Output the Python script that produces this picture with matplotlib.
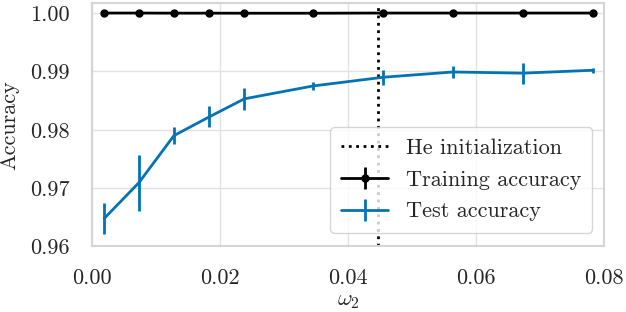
import numpy as np
import matplotlib
matplotlib.use("Agg")
import matplotlib.pyplot as plt
import seaborn as sns

# values
omega2 = [0.0019, 0.0073, 0.0128, 0.0183, 0.0238, 0.0345, 0.0455, 0.0564, 0.0673, 0.0783]
train_acc = [1.0, 1.0, 0.99998, 0.99998, 0.99997, 0.99997, 1.0, 1.0, 1.0, 1.0]
train_err = [0.0, 0.0, 0.0, 0.0, 0.0, 0.0, 0.0, 0.0, 0.0, 0.0]
test_acc = [0.9648, 0.9709, 0.9790, 0.9822, 0.9853, 0.9875, 0.9890, 0.9899, 0.9897, 0.9902]
test_err = [0.0026, 0.0048, 0.0014, 0.0018, 0.0019, 0.0007, 0.0013, 0.0011, 0.0018, 0.0004]
he_init = 0.0447

sns.set_theme(style="whitegrid", palette="colorblind")
plt.rcParams.update({
    "font.family": ["cmr10", "DejaVu Serif"],
    "mathtext.fontset": "cm",
    "axes.formatter.use_mathtext": True,
    "font.size": 16,
    "axes.labelsize": 16,
    "xtick.labelsize": 16,
    "ytick.labelsize": 16,
    "legend.fontsize": 16,
    "grid.color": "#e2e2e2",
    "xtick.major.pad": 10,
    "ytick.major.pad": 10,
})

blue = sns.color_palette("colorblind")[0]

fig, ax = plt.subplots(figsize=(6.26, 3.12), dpi=100)
fig.subplots_adjust(left=0.147, right=0.965, top=0.99, bottom=0.21)

ax.axvline(he_init, color="black", ls=":", lw=2, label="He initialization")
ax.errorbar(omega2, train_acc, yerr=train_err, color="black", marker="o", ms=5,
            lw=2, label="Training accuracy")
ax.errorbar(omega2, test_acc, yerr=test_err, color=blue, lw=2, elinewidth=2,
            label="Test accuracy")

ax.set_xlim(0, 0.08)
ax.set_ylim(0.96, 1.0017)
ax.set_xticks([0.0, 0.02, 0.04, 0.06, 0.08])
ax.set_yticks([0.96, 0.97, 0.98, 0.99, 1.00])
ax.set_xticklabels(["0.00", "0.02", "0.04", "0.06", "0.08"])
ax.set_yticklabels(["0.96", "0.97", "0.98", "0.99", "1.00"])
ax.set_xlabel(r"$\omega_2$", labelpad=2)
ax.set_ylabel("Accuracy", labelpad=8)
for s in ax.spines.values():
    s.set_color("#d5d5d5")
    s.set_linewidth(1.5)
ax.legend(loc="lower right", bbox_to_anchor=(0.977, 0.057), borderaxespad=0,
          handlelength=2.1, borderpad=0.5, labelspacing=0.55)

fig.savefig("out.png", dpi=100)
